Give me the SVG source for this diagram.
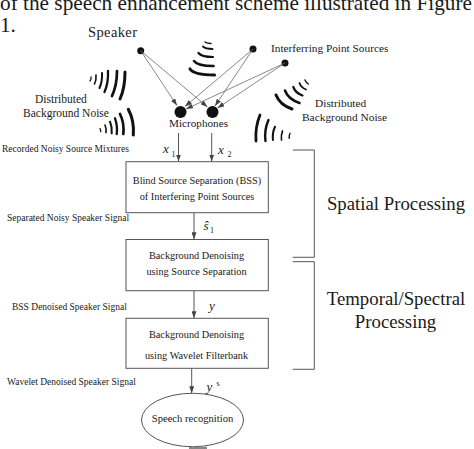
<svg xmlns="http://www.w3.org/2000/svg" width="474" height="449" viewBox="0 0 474 449">
<defs>
<style>
text{font-family:"Liberation Serif","Times New Roman",serif;fill:#1a1a1a}
.big{font-size:21.2px}
.lbl{font-size:9.5px}
.box{font-size:10.3px;text-anchor:middle}
.proc{font-size:18.8px;text-anchor:middle}
.math{font-style:italic;font-size:13px}
.sub{font-size:8px}
.node{fill:#fff;stroke:#555;stroke-width:1}
.flow{stroke:#555;stroke-width:1;fill:none}
.ray{stroke:#555;stroke-width:0.7;fill:none}
.brk{stroke:#555;stroke-width:1;fill:none}
.wave{stroke:#111;fill:none;stroke-linecap:round}
</style>
<marker id="ah" markerUnits="userSpaceOnUse" markerWidth="7" markerHeight="5" refX="7" refY="2.5" orient="auto">
<path d="M0,0 L7,2.5 L0,5 z" fill="#444"/>
</marker>
</defs>
<rect width="474" height="449" fill="#fff"/>

<text class="big" x="0" y="10" textLength="472" lengthAdjust="spacingAndGlyphs">of the speech enhancement scheme illustrated in Figure</text>
<text class="big" x="0" y="32">1.</text>

<g id="speaker">
<circle cx="140.7" cy="50.7" r="3.5" fill="#111"/>
<text x="88" y="37" style="font-size:14.5px" textLength="49">Speaker</text>
</g>
<g id="interferers">
<circle cx="253" cy="49" r="3.5" fill="#111"/>
<circle cx="285" cy="63" r="3.5" fill="#111"/>
<text x="271" y="52" style="font-size:11.3px">Interferring Point Sources</text>
</g>
<g id="microphones">
<circle cx="180.5" cy="112" r="6" fill="#111"/>
<circle cx="212.5" cy="112" r="6" fill="#111"/>
<text x="169" y="127" style="font-size:11.2px" textLength="59">Microphones</text>
</g>

<g id="noise-left">
<text x="35" y="103" style="font-size:11.5px">Distributed</text>
<text x="23" y="116.5" style="font-size:11.5px">Background Noise</text>
<path class="wave" stroke-width="1.3" d="M91,77 Q91.5,79 90,81"/>
<path class="wave" stroke-width="1.6" d="M96,75 Q96.5,80 94.5,84"/>
<path class="wave" stroke-width="2" d="M102,73 Q102.5,81 99.5,88"/>
<path class="wave" stroke-width="2.3" d="M108,71 Q108.5,83 104.5,92"/>
<path class="wave" stroke-width="2.7" d="M117,71 Q117,85 112,96"/>
<path class="wave" stroke-width="3" d="M125,72 Q125,88 120,99"/>
<path class="wave" stroke-width="1.3" d="M100,128.5 Q100.8,130 100.7,131.7"/>
<path class="wave" stroke-width="1.6" d="M105,125 Q106.5,128.5 106,132.7"/>
<path class="wave" stroke-width="2" d="M110,121.7 Q112.3,127 111.7,133.3"/>
<path class="wave" stroke-width="2.3" d="M115,118.3 Q117.8,126 116.7,134"/>
<path class="wave" stroke-width="2.7" d="M120,114 Q124.5,123 123.3,134"/>
<path class="wave" stroke-width="3" d="M128.3,109.3 Q134.5,121 133.3,135"/>
</g>

<g id="noise-top">
<path class="wave" stroke-width="1.4" d="M205,42 Q207,43.5 211,43.5"/>
<path class="wave" stroke-width="1.8" d="M203,46.5 Q205.5,49 212.5,49"/>
<path class="wave" stroke-width="2.2" d="M198.5,53 Q201.5,57 213,57"/>
<path class="wave" stroke-width="2.6" d="M194,61 Q197.5,66 213.5,66"/>
<path class="wave" stroke-width="3.1" d="M190,69 Q194,75 214.5,75"/>
</g>

<g id="noise-right">
<text x="315" y="106.5" style="font-size:11.4px">Distributed</text>
<text x="302" y="121" style="font-size:11.4px">Background Noise</text>
<path class="wave" stroke-width="3" d="M276,95 Q280,105 292,109"/>
<path class="wave" stroke-width="2.6" d="M285,90.5 Q288,99 299.5,103"/>
<path class="wave" stroke-width="2.2" d="M293.3,87 Q295.5,93 302.5,95.5"/>
<path class="wave" stroke-width="1.8" d="M299.5,83 Q301,87.5 306,89.5"/>
<path class="wave" stroke-width="1.4" d="M305,80 Q306,82.5 308.3,84"/>
<path class="wave" stroke-width="2.8" d="M260,115 Q255,127 256,141"/>
<path class="wave" stroke-width="2.4" d="M268.5,120 Q264,130 265.5,141"/>
<path class="wave" stroke-width="2" d="M275,126.7 Q272,133 273,140"/>
<path class="wave" stroke-width="1.7" d="M282.5,131 Q280.8,135.5 281.5,140"/>
<path class="wave" stroke-width="1.4" d="M290,133.3 Q288.8,136 289.3,138.3"/>
</g>

<g id="box-bss">
<rect class="node" x="126" y="161.7" width="142.3" height="51"/>
<text class="box" x="197" y="184">Blind Source Separation (BSS)</text>
<text class="box" x="197" y="200">of Interfering Point Sources</text>
</g>
<g id="box-denoise-ss">
<rect class="node" x="126" y="239.5" width="142.3" height="51.2"/>
<text class="box" x="196.5" y="258.5">Background Denoising</text>
<text class="box" x="196.5" y="274.5">using Source Separation</text>
</g>
<g id="box-denoise-wf">
<rect class="node" x="126" y="318.3" width="142.3" height="50"/>
<text class="box" x="196.5" y="337.5">Background Denoising</text>
<text class="box" x="196.5" y="358.5">using Wavelet Filterbank</text>
</g>
<g id="speech-recognition">
<ellipse class="node" cx="192.5" cy="420" rx="51" ry="26.7"/>
<text x="192.5" y="422.3" style="font-size:10.6px;text-anchor:middle">Speech recognition</text>
<rect x="189" y="446.8" width="18" height="2.2" fill="#888"/>
</g>

<g id="connectors">
<line class="ray" x1="140.7" y1="50.7" x2="177" y2="105.5" marker-end="url(#ah)"/>
<line class="ray" x1="140.7" y1="50.7" x2="207.5" y2="107" marker-end="url(#ah)"/>
<line class="ray" x1="253" y1="49" x2="185" y2="106.5" marker-end="url(#ah)"/>
<line class="ray" x1="253" y1="49" x2="215" y2="106" marker-end="url(#ah)"/>
<line class="ray" x1="285" y1="63" x2="186" y2="109" marker-end="url(#ah)"/>
<line class="ray" x1="285" y1="63" x2="217.5" y2="108" marker-end="url(#ah)"/>
<line class="flow" x1="178.5" y1="133" x2="178.5" y2="161.5" marker-end="url(#ah)"/>
<line class="flow" x1="211.7" y1="133" x2="211.7" y2="161.5" marker-end="url(#ah)"/>
<line class="flow" x1="194" y1="212.7" x2="194" y2="239.3" marker-end="url(#ah)"/>
<line class="flow" x1="194" y1="290.7" x2="194" y2="318.2" marker-end="url(#ah)"/>
<line class="flow" x1="191.7" y1="368.3" x2="191.7" y2="393.3" marker-end="url(#ah)"/>
</g>

<g id="signal-labels">
<text class="math" x="163" y="153">x</text><text class="sub" x="171.5" y="156.5">1</text>
<text class="math" x="218" y="153.5">x</text><text class="sub" x="227.5" y="157">2</text>
<text class="math" x="203.5" y="230">ŝ</text><text class="sub" x="210" y="232.5">1</text>
<text class="math" x="209" y="310">y</text>
<text class="math" x="206.5" y="391">y</text><text class="sub" x="216.5" y="386">s</text>
<text class="lbl" x="2" y="152">Recorded Noisy Source Mixtures</text>
<text class="lbl" x="7" y="221">Separated Noisy Speaker Signal</text>
<text class="lbl" x="12" y="310">BSS Denoised Speaker Signal</text>
<text class="lbl" x="7" y="385">Wavelet Denoised Speaker Signal</text>
</g>

<g id="spatial">
<path class="brk" d="M292.7,150 H314.3 V257.3 H292.7"/>
<text class="proc" x="396" y="210">Spatial Processing</text>
</g>
<g id="temporal">
<path class="brk" d="M292.7,261.7 H314.3 V369.3 H292.7"/>
<text class="proc" x="396" y="305">Temporal/Spectral</text>
<text class="proc" x="395.5" y="328.3">Processing</text>
</g>
</svg>
